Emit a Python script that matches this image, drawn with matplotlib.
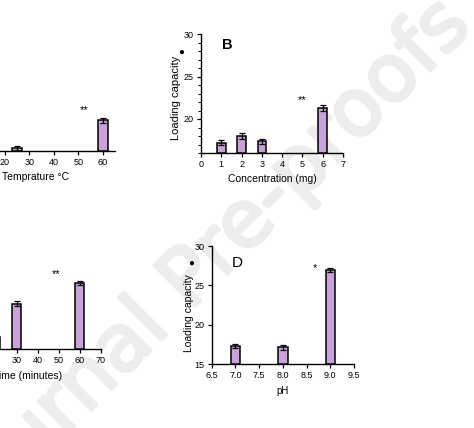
import matplotlib
matplotlib.use('Agg')
import matplotlib.pyplot as plt
import matplotlib.patheffects as pe
import numpy as np

plt.rcParams['font.family'] = ['Liberation Sans', 'DejaVu Sans']

W, H = 474, 428
BAR_COLOR = '#c9a2d9'

# Panel A: temperature
temp_x = [25, 60]
temp_y = [15.3, 18.9]
temp_err = [0.3, 0.3]

# Panel B: concentration
conc_x = [1, 2, 3, 6]
conc_y = [17.2, 18.0, 17.4, 21.3]
conc_err = [0.3, 0.3, 0.3, 0.35]

# Panel C: time
time_x = [20, 30, 60]
time_y = [16.8, 21.6, 24.6]
time_err = [0.3, 0.35, 0.3]

# Panel D: pH
ph_x = [7.0, 8.0, 9.0]
ph_y = [17.3, 17.1, 26.9]
ph_err = [0.3, 0.3, 0.25]


def px_axes(fig, x0, x1, ytop, ybot):
    # axes placed in pixel coordinates of the cropped figure
    return fig.add_axes([x0 / W, 1 - ybot / H, (x1 - x0) / W, (ybot - ytop) / H])


def style(ax):
    ax.patch.set_visible(False)
    for s in ['top', 'right']:
        ax.spines[s].set_visible(False)
    for s in ['left', 'bottom']:
        ax.spines[s].set_linewidth(1.0)
    ax.tick_params(direction='out', length=3, width=0.9, labelsize=6.5, pad=2)


def bars(ax, x, y, err, width, base):
    heights = np.array(y) - base
    ax.bar(x, heights, bottom=base, width=width, color=BAR_COLOR,
           edgecolor='black', linewidth=1.1, zorder=3)
    ax.errorbar(x, y, yerr=err, fmt='none', ecolor='black', elinewidth=0.9,
                capsize=2, capthick=0.9, zorder=4)


fig = plt.figure(figsize=(W / 100, H / 100), dpi=100)

# watermark
wm_color = '#ededed'
fig.text(210 / W, 1 - 260 / H, 'Journal Pre-proofs', fontsize=57, color=wm_color,
         rotation=45, rotation_mode='anchor', ha='center', va='center',
         family='DejaVu Sans', zorder=-1,
         path_effects=[pe.withStroke(linewidth=2.5, foreground=wm_color)])

# Panel A
ax = px_axes(fig, -44, 115, 34, 150.7)
style(ax)
bars(ax, temp_x, temp_y, temp_err, 4.1, 15)
ax.set_xlim(0, 65)
ax.set_ylim(15, 30)
ax.set_xticks(np.arange(0, 61, 10))
ax.set_xlabel('Temprature °C', fontsize=7.5, labelpad=4)
ax.text(52.5, 19.8, '**', fontsize=8, ha='center')

# Panel B
ax = px_axes(fig, 201, 343, 34, 153)
style(ax)
bars(ax, conc_x, conc_y, conc_err, 0.42, 16)
ax.set_xlim(0, 7)
ax.set_ylim(16, 30)
ax.set_xticks(range(0, 8))
ax.set_yticks([20, 25, 30])
ax.set_yticks(range(16, 31), minor=True)
ax.tick_params(which='minor', length=2, width=0.7)
ax.set_xlabel('Concentration (mg)', fontsize=7.5, labelpad=4)
ax.text(5, 21.9, '**', fontsize=8, ha='center')
ax.text(1.3, 28.2, 'B', fontsize=10.5, fontweight='bold', ha='center')
fig.text(176 / W, 1 - 98 / H, 'Loading capacity', rotation=90, fontsize=8,
         ha='center', va='center')
fig.text(181 / W, 1 - 52 / H, '●', fontsize=7, ha='center', va='center')

# Panel C
ax = px_axes(fig, -46.3, 100.7, 246, 349.3)
style(ax)
bars(ax, time_x, time_y, time_err, 4.1, 15)
ax.set_xlim(0, 70)
ax.set_ylim(15, 30)
ax.set_xticks(np.arange(0, 71, 10))
ax.set_xlabel('Time (minutes)', fontsize=7.5, labelpad=4)
ax.text(49, 25.5, '**', fontsize=8, ha='center')

# Panel D
ax = px_axes(fig, 211.7, 354, 246, 364)
style(ax)
bars(ax, ph_x, ph_y, ph_err, 0.2, 15)
ax.set_xlim(6.5, 9.5)
ax.set_ylim(15, 30)
ax.set_xticks(np.arange(6.5, 9.51, 0.5))
ax.set_xticklabels([f'{v:.1f}' for v in np.arange(6.5, 9.51, 0.5)])
ax.set_yticks([15, 20, 25, 30])
ax.set_xlabel('pH', fontsize=7, labelpad=4)
ax.text(8.68, 26.8, '*', fontsize=8, ha='center')
ax.text(7.03, 27.3, 'D', fontsize=11, ha='center')
fig.text(189 / W, 1 - 313 / H, 'Loading capacity', rotation=90, fontsize=7.5,
         ha='center', va='center')
fig.text(191 / W, 1 - 263 / H, '●', fontsize=7, ha='center', va='center')

fig.savefig('out.png', dpi=100, facecolor='white')
